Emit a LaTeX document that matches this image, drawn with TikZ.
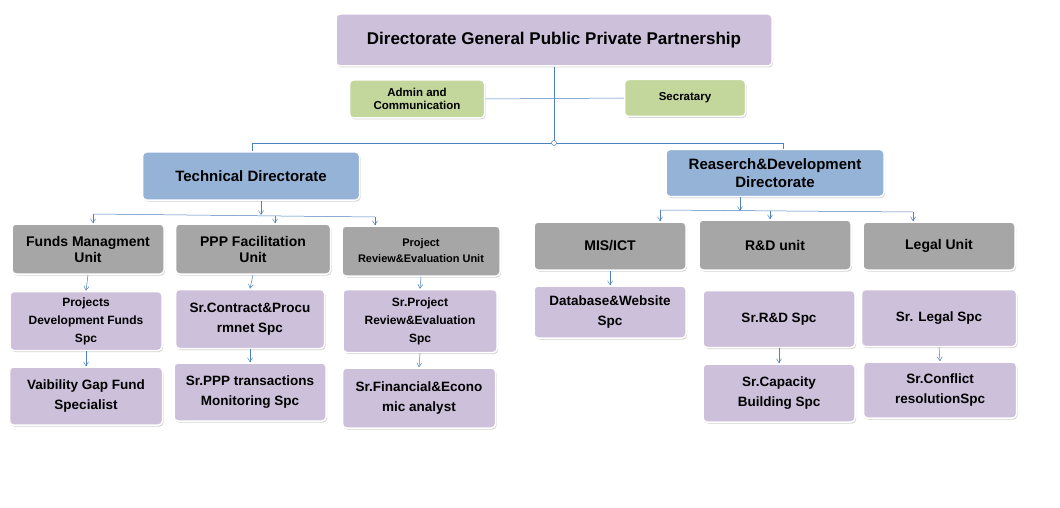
\documentclass[tikz,border=0pt]{standalone}
\usepackage{fontspec}
\setmainfont{Liberation Sans}
\usetikzlibrary{shadows,arrows.meta}
\definecolor{cpur}{HTML}{CCC0DA}
\definecolor{cgrn}{HTML}{C3D69B}
\definecolor{cblu}{HTML}{95B3D7}
\definecolor{cgry}{HTML}{A6A6A6}
\definecolor{cln}{HTML}{4F81BD}
\tikzset{
 box/.style={draw=white,line width=1.5pt,rounded corners=4pt,align=center,font=\bfseries,
   drop shadow={shadow xshift=1pt,shadow yshift=-1.5pt,opacity=0.35},inner sep=1pt},
 ln/.style={draw=cln,line width=0.5pt},
 ar/.style={ln,-{Straight Barb[length=4pt,width=5pt]}},
}
\begin{document}
\begin{tikzpicture}[x=1pt,y=-1pt]
\useasboundingbox (0,0) rectangle (1060,508);
\fill[white] (0,0) rectangle (1060,508);
\newcommand\bx[7]{\node[box,fill=#1,minimum width=#4-#2,minimum height=#5-#3,text width=#4-#2-6,font=\bfseries\fontsize{#6}{#6*1.25}\selectfont] (#7) at ({(#2+#4)/2},{(#3+#5)/2}) {\strut};}
% boxes
\node[box,fill=cpur,minimum width=436,minimum height=52,font=\bfseries\fontsize{17}{20}\selectfont] (top) at (554,40) {Directorate General Public Private Partnership};
\node[box,fill=cgrn,minimum width=135,minimum height=38,font=\bfseries\fontsize{11.5}{13}\selectfont] (adm) at (417,99) {Admin and\\Communication};
\node[box,fill=cgrn,minimum width=121,minimum height=37,font=\bfseries\fontsize{11.5}{13}\selectfont] (sec) at (685,98) {Secratary};
\node[box,fill=cblu,minimum width=217,minimum height=48,font=\bfseries\fontsize{15}{18}\selectfont] (tech) at (251,176) {Technical Directorate};
\node[box,fill=cblu,minimum width=218,minimum height=47,font=\bfseries\fontsize{15}{18}\selectfont] (rdd) at (775,173) {Reaserch\&Development\\Directorate};
\tikzset{l2/.style={box,fill=cgry,minimum width=152,minimum height=50,font=\bfseries\fontsize{14}{16}\selectfont},
 l3/.style={box,fill=cpur,minimum width=152,minimum height=59,font=\bfseries\fontsize{13.5}{20}\selectfont}}
\node[l2] (fmu) at (88,249) {Funds Managment\\Unit};
\node[l2,minimum width=155] (ppp) at (253,249) {PPP Facilitation\\Unit};
\node[l2,minimum width=158,font=\bfseries\fontsize{11}{16}\selectfont] (pru) at (421,251) {Project\\Review\&Evaluation Unit};
\node[l2,minimum height=48] (mis) at (610,246) {MIS/ICT};
\node[l2] (rdu) at (775,245) {R\&D unit};
\node[l2,minimum height=48] (leg) at (939,246) {Legal Unit};
\node[l3,font=\bfseries\fontsize{12}{18}\selectfont] (pdf) at (86,321) {Projects\\Development Funds\\Spc};
\node[l3,minimum width=149] (scp) at (250,319) {Sr.Contract\&Procu\\rmnet Spc};
\node[l3,minimum width=154,minimum height=63,font=\bfseries\fontsize{12}{18}\selectfont] (spr) at (420,321) {Sr.Project\\Review\&Evaluation\\Spc};
\node[l3,minimum height=52] (dbw) at (610,312) {Database\&Website\\Spc};
\node[l3,minimum height=57] (srd) at (779,319) {Sr.R\&D Spc};
\node[l3,minimum width=155,minimum height=57] (slg) at (939,318) {Sr. Legal Spc};
\node[l3,minimum width=153,minimum height=58] (vgf) at (86,396) {Vaibility Gap Fund\\Specialist};
\node[l3,minimum height=58] (spt) at (250,392) {Sr.PPP transactions\\Monitoring Spc};
\node[l3,minimum width=153,minimum height=60] (sfe) at (419,398) {Sr.Financial\&Econo\\mic analyst};
\node[l3,minimum height=58] (scb) at (779,393) {Sr.Capacity\\Building Spc};
\node[l3,minimum width=153,minimum height=56] (scr) at (940,390) {Sr.Conflict\\resolutionSpc};
% top connectors
\coordinate (j) at (554,143);
\draw[ln] (top.south) -- (j);
\draw[ln] (adm.east) -- (sec.west);
\draw[ln] (252,143) coordinate (jl) -- (783,143) coordinate (jr);
\draw[ln] (jl) -- (tech.north -| jl);
\draw[ln] (jr) -- (rdd.north -| jr);
\draw[ln,fill=white] (j) circle (2.5);
% technical
\coordinate (tj) at (261,215);
\draw[ar] (tech.south -| tj) -- (tj);
\draw[ln] (93,214) -- (375,217);
\draw[ar] (93,214) -- (fmu.north -| 93,0);
\draw[ar] (275,215.5) -- (ppp.north -| 275,0);
\draw[ar] (375,217) -- (pru.north -| 375,0);
% R&D
\coordinate (rj) at (740,211);
\draw[ar] (rdd.south -| rj) -- (rj);
\draw[ln] (660,210) -- (913,212);
\draw[ar] (660,210) -- (mis.north -| 660,0);
\draw[ar] (770,211) -- (rdu.north -| 770,0);
\draw[ar] (913,212) -- (leg.north -| 913,0);
% verticals
\foreach \a/\b in {fmu/pdf,pdf/vgf,ppp/scp,scp/spt,pru/spr,spr/sfe,mis/dbw,srd/scb,slg/scr}
  \draw[ar] (\a.south) -- (\b.north);
\end{tikzpicture}
\end{document}
